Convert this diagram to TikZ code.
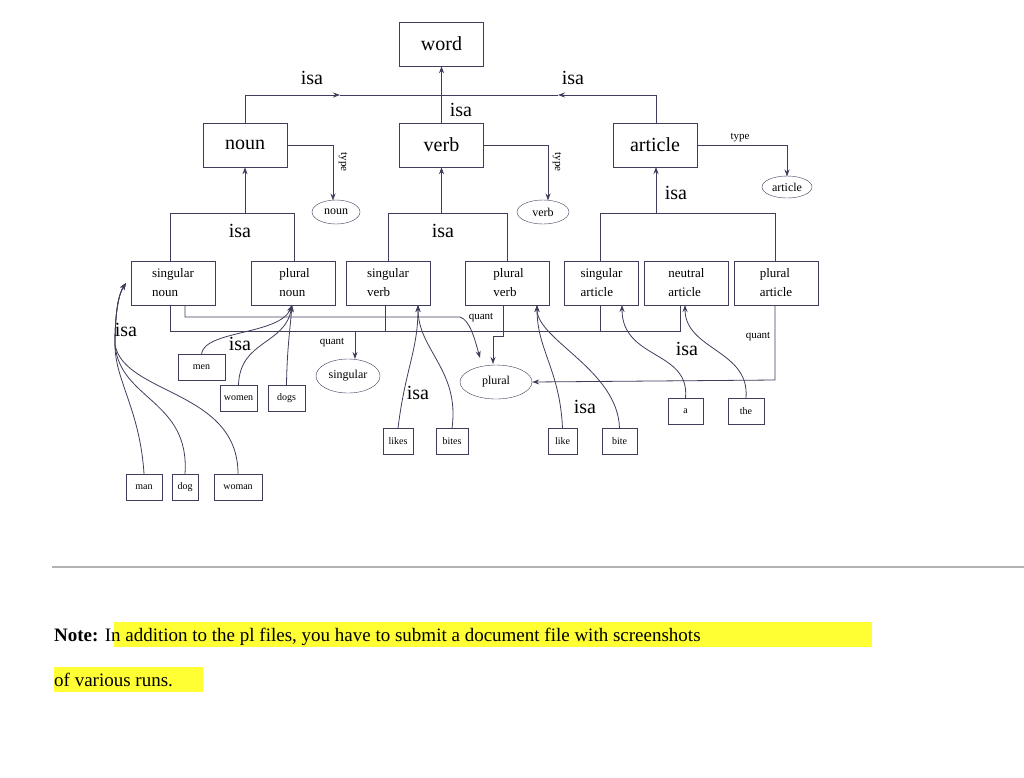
\documentclass[tikz,border=0pt]{standalone}
\usepackage{fontspec}
\setmainfont{Liberation Serif}
\usetikzlibrary{shapes.geometric,arrows.meta}
\definecolor{ln}{HTML}{3E3E5C}
\definecolor{hl}{HTML}{FFFF33}
\begin{document}
\begin{tikzpicture}[x=1pt,y=-1pt,
  every node/.style={inner sep=0pt},
  big/.style={draw=ln,minimum width=84pt,minimum height=44pt,font=\fontsize{20}{22}\selectfont},
  mid/.style={draw=ln,minimum width=84pt,minimum height=44pt,align=left,font=\fontsize{13}{19}\selectfont},
  sm/.style={draw=ln,minimum height=26pt,font=\fontsize{10}{12}\selectfont},
  ov/.style={draw=ln,ellipse,font=\fontsize{12}{14}\selectfont},
  lab/.style={font=\fontsize{20}{22}\selectfont},
  slab/.style={font=\fontsize{11}{13}\selectfont},
  l/.style={draw=ln,line width=0.8pt},
  a/.style={l,-{Stealth[length=7pt,width=5pt]}}]
\useasboundingbox (0,0) rectangle (1024,777);
% top
\node[big] (word) at (441.5,44) {word};
\node[big] (noun) at (245,145) {noun};
\node[big] (verb) at (441.5,145) {verb};
\node[big] (article) at (655,145) {article};
\coordinate (jn) at (245,95); \coordinate (ja) at (656,95); \coordinate (jw) at (441.5,95);
\draw[l] (noun.north) -- (jn);
\draw[a] (jn) -- (340,95);
\draw[l] (340,95) -- (jw);
\draw[l] (article.north -| ja) -- (ja);
\draw[a] (ja) -- (558,95);
\draw[l] (558,95) -- (jw);
\draw[a] (verb.north) -- (word.south);
\node[lab] (i1) at (312,78) {isa};
\node[lab] (i2) at (573,78) {isa};
\node[lab] (i3) at (461,110) {isa};
% type
\node[ov,minimum width=48pt,minimum height=24pt] (onoun) at (336,212) {noun};
\node[ov,minimum width=52pt,minimum height=24pt] (overb) at (543,212) {verb};
\node[ov,minimum width=50pt,minimum height=22pt] (oart) at (787,187) {article};
\draw[a] (noun.east) -- (333,145) -- (333,200.5);
\draw[a] (verb.east) -- (548,145) -- (548,200.5);
\draw[a] (article.east) -- (787,145) -- (787,176.5);
\node[slab,rotate=-90] (t1) at (343,162) {type};
\node[slab,rotate=-90] (t2) at (557,162) {type};
\node[slab] (t3) at (740,138) {type};
% level 2
\node[mid] (sn) at (173,283) {singular\\noun};
\node[mid] (pn) at (293,283) {\ plural\\\ noun};
\node[mid] (sv) at (388,283) {singular\\verb};
\node[mid] (pv) at (507,283) {\ plural\\\ verb};
\node[mid,minimum width=74pt] (sa) at (601.5,283) {singular\\article};
\node[mid] (na) at (686.5,283) {neutral\\article};
\node[mid] (pa) at (776,283) {plural\\article};
% isa brackets
\draw[l] (170,261) -- (170,213) -- (294,213) -- (294,261);
\draw[a] (245,213) -- (noun.south);
\draw[l] (388,261) -- (388,213) -- (507,213) -- (507,261);
\draw[a] (441.5,213) -- (verb.south);
\draw[l] (600,261) -- (600,213) -- (775,213) -- (775,261);
\draw[a] (656,213) -- (656,167);
\node[lab] (i4) at (240,231) {isa};
\node[lab] (i5) at (443,231) {isa};
\node[lab] (i6) at (676,193) {isa};
% quant
\node[ov,minimum width=64pt,minimum height=34pt] (osing) at (348,376) {singular};
\node[ov,minimum width=72pt,minimum height=34pt] (oplur) at (496,382) {plural};
\draw[l] (170,305) -- (170,331) -- (680,331) -- (680,305);
\draw[l] (385,305) -- (385,331); \draw[l] (600,305) -- (600,331);
\draw[a] (355,331) -- (355,359);
\node[slab] (q1) at (332,343) {quant};
\draw[a] (185,305) -- (185,317) -- (460,317) .. controls (470,320) and (475,340) .. (480,358);
\node[slab] (q2) at (481,318) {quant};
\draw[a] (503,305) -- (503,336) -- (493,336) -- (493,364);
\draw[a] (775,305) -- (775,380) -- (oplur.east);
\node[slab] (q3) at (758,337) {quant};
% leaves
\node[sm,minimum width=47pt] (men) at (201.5,367) {men};
\node[sm,minimum width=37pt] (women) at (238.5,398) {women};
\node[sm,minimum width=37pt] (dogs) at (286.5,398) {dogs};
\node[sm,minimum width=36pt] (man) at (144,487) {man};
\node[sm,minimum width=26pt] (dog) at (185,487) {dog};
\node[sm,minimum width=48pt] (woman) at (238,487) {woman};
\node[sm,minimum width=30pt] (likes) at (398,441.5) {likes};
\node[sm,minimum width=32pt] (bites) at (452,441.5) {bites};
\node[sm,minimum width=29pt] (like) at (562.5,441.5) {like};
\node[sm,minimum width=35pt] (bite) at (619.5,441.5) {bite};
\node[sm,minimum width=35pt] (xa) at (685.5,411) {a};
\node[sm,minimum width=36pt] (the) at (746,411) {the};
% isa curves
\coordinate (pnb) at (292,305); \coordinate (snl) at (126,283);
\draw[a] (men.north) .. controls (205,330) and (280,335) .. (pnb);
\draw[a] (women.north) .. controls (240,340) and (285,345) .. (pnb);
\draw[a] (dogs.north) .. controls (287,350) and (290,330) .. (pnb);
\draw[a] (man.north) .. controls (140,410) and (115,380) .. (115,345) .. controls (115,315) and (118,295) .. (snl);
\draw[a] (dog.north) .. controls (190,400) and (120,400) .. (115,345) .. controls (115,315) and (118,295) .. (snl);
\draw[a] (woman.north) .. controls (238,390) and (125,395) .. (115,345) .. controls (115,315) and (118,295) .. (snl);
\draw[a] (likes.north) .. controls (405,370) and (418,350) .. (418,305);
\draw[a] (bites.north) .. controls (460,370) and (418,350) .. (418,305);
\draw[a] (like.north) .. controls (560,370) and (537,350) .. (537,305);
\draw[a] (bite.north) .. controls (618,370) and (537,340) .. (537,305);
\draw[a] (xa.north) .. controls (690,350) and (622,360) .. (622,305);
\draw[a] (the.north) .. controls (750,350) and (685,350) .. (685,305);
\node[lab] (i7) at (126,330) {isa};
\node[lab] (i8) at (240,344) {isa};
\node[lab] (i9) at (418,393) {isa};
\node[lab] (i10) at (585,407) {isa};
\node[lab] (i11) at (687,349) {isa};
% rule and note
\draw[draw=gray!60,line width=1.2pt] (52,567) -- (1024,567);
\fill[hl] (114,622) rectangle (872,647);
\fill[hl] (54,667) rectangle (203,692);
\node[anchor=base west,font=\fontsize{19}{22}\selectfont] (note1) at (54,641) {\textbf{Note:} In addition to the pl files, you have to submit a document file with screenshots};
\node[anchor=base west,font=\fontsize{19}{22}\selectfont] (note2) at (54,686) {of various runs.};
\end{tikzpicture}
\end{document}
